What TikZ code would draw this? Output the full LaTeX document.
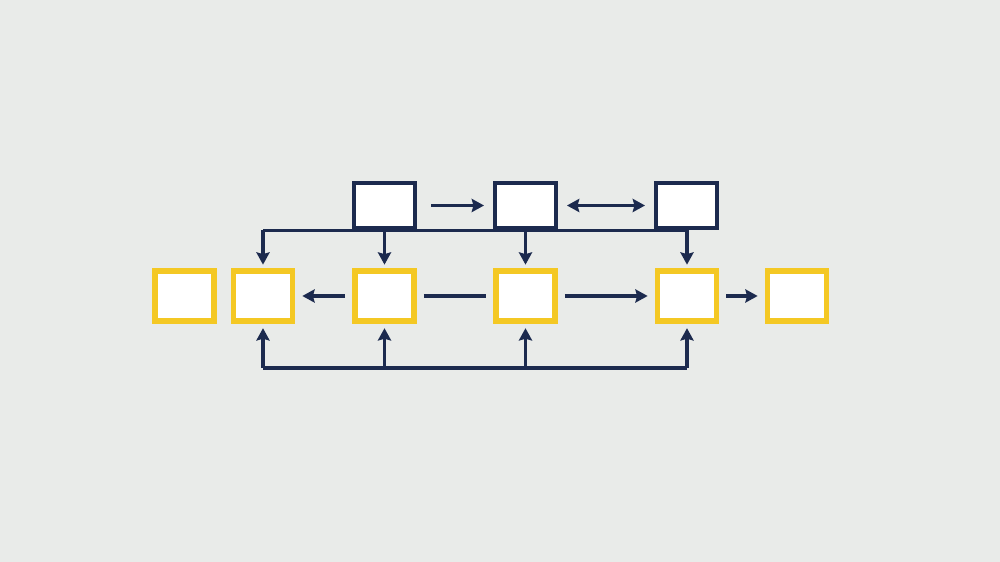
\documentclass[tikz,border=0pt]{standalone}
\usetikzlibrary{arrows.meta}
\definecolor{paper}{RGB}{233,235,233}
\definecolor{navy}{RGB}{28,42,78}
\definecolor{gold}{RGB}{244,200,36}
\colorlet{step edge}{gold}
\colorlet{head edge}{navy}
\tikzset{stepbox/.style={draw=step edge, fill=white, line width=3.2pt, inner sep=0pt,
        minimum width=1.18cm, minimum height=1.0cm},
    headbox/.style={draw=head edge, fill=white, line width=2.5pt, inner sep=0pt,
        minimum width=1.22cm, minimum height=0.9cm},
    link/.style={draw=navy, line width=1.8pt},
    arr/.style={link, -{Stealth[length=7pt,width=7.5pt,inset=1pt]}}}

\begin{document}
\begin{tikzpicture}
     \fill[paper] (0,0) rectangle (20,11.24);
     \node[stepbox] (A) at (3.69,5.32) {};
     \node[stepbox] (B) at (5.26,5.32) {};
     \node[stepbox] (C) at (7.69,5.32) {};
     \node[stepbox] (D) at (10.51,5.32) {};
     \node[stepbox] (E) at (13.74,5.32) {};
     \node[stepbox] (F) at (15.94,5.32) {};
     \node[headbox] (T1) at (7.69,7.13) {};
     \node[headbox] (T2) at (10.51,7.13) {};
     \node[headbox] (T3) at (13.73,7.13) {};
     \coordinate (bot) at (0,3.88);
     \draw[link] (B |- T1.south) -- (E |- T1.south);
     \draw[link] (B |- bot) -- (E |- bot);
     \foreach \n in {B,C,D,E} {
         \draw[arr, shorten >=2pt] (\n |- T1.south) -- (\n.north);
         \draw[arr, shorten >=2.5pt] (\n |- bot) -- (\n.south);
     }
     \draw[arr, shorten <=4pt, shorten >=4pt] (C) -- (B);
     \draw[link, shorten <=4pt, shorten >=4pt] (C) -- (D);
     \draw[arr, shorten <=4pt, shorten >=4pt] (D) -- (E);
     \draw[arr, shorten <=4pt, shorten >=4pt] (E) -- (F);
     \draw[arr, shorten <=8pt, shorten >=5pt] (T1) -- (T2);
     \draw[arr, {Stealth[length=7pt,width=7.5pt,inset=1pt]}-{Stealth[length=7pt,width=7.5pt,inset=1pt]},
         shorten <=5pt, shorten >=5pt] (T2) -- (T3);
 \end{tikzpicture}
\end{document}
